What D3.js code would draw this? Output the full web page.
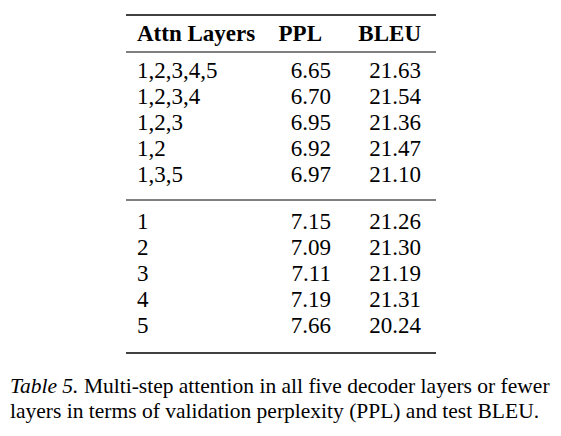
<!DOCTYPE html>
<html><head><meta charset="utf-8">
<script src="https://cdn.jsdelivr.net/npm/d3@7"></script>
<style>body{margin:0;background:#fff}text{font-family:"Liberation Serif","DejaVu Serif",serif;fill:#000}</style>
</head><body><svg id="c" width="561" height="436"></svg>
<script>
var headers = ['Attn Layers', 'PPL', 'BLEU'];
var layers1 = ['1,2,3,4,5', '1,2,3,4', '1,2,3', '1,2', '1,3,5'];
var ppl1 = ['6.65', '6.70', '6.95', '6.92', '6.97'];
var bleu1 = ['21.63', '21.54', '21.36', '21.47', '21.10'];
var layers2 = ['1', '2', '3', '4', '5'];
var ppl2 = ['7.15', '7.09', '7.11', '7.19', '7.66'];
var bleu2 = ['21.26', '21.30', '21.19', '21.31', '20.24'];

var svg = d3.select('#c');
var left = 126, right = 436;
var rows = d3.scaleLinear().domain([0, 4]).range([0, 104]);

function rule(y, w){
	svg.append('line').attr('x1', left).attr('x2', right).attr('y1', y).attr('y2', y)
		.attr('stroke', '#000').attr('stroke-width', w);
}
rule(15, 1.6); rule(52, 1); rule(200, 1); rule(353, 1.6);

var h = svg.append('g').attr('font-size', 23).attr('font-weight', 'bold');
h.append('text').attr('x', 137).attr('y', 41).text(headers[0]);
h.append('text').attr('x', 322).attr('y', 41).attr('text-anchor', 'end').text(headers[1]);
h.append('text').attr('x', 421).attr('y', 41).attr('text-anchor', 'end').text(headers[2]);

function block(top, a, b, c){
	var g = svg.append('g').attr('font-size', 23);
	var idx = d3.range(a.length);
	g.selectAll('.a').data(idx).enter().append('text').attr('x', 137).attr('y', function(i){ return top + rows(i); }).text(function(i){ return a[i]; });
	g.selectAll('.b').data(idx).enter().append('text').attr('x', 331).attr('text-anchor', 'end').attr('y', function(i){ return top + rows(i); }).text(function(i){ return b[i]; });
	g.selectAll('.c').data(idx).enter().append('text').attr('x', 421).attr('text-anchor', 'end').attr('y', function(i){ return top + rows(i); }).text(function(i){ return c[i]; });
}
block(78, layers1, ppl1, bleu1);
block(229, layers2, ppl2, bleu2);

var cap = svg.append('g').attr('font-size', 21.5);
var t1 = cap.append('text').attr('x', 10).attr('y', 393);
t1.append('tspan').attr('font-style', 'italic').text('Table 5.');
t1.append('tspan').text(' Multi-step attention in all five decoder layers or fewer');
cap.append('text').attr('x', 10).attr('y', 418).text('layers in terms of validation perplexity (PPL) and test BLEU.');
</script></body></html>
